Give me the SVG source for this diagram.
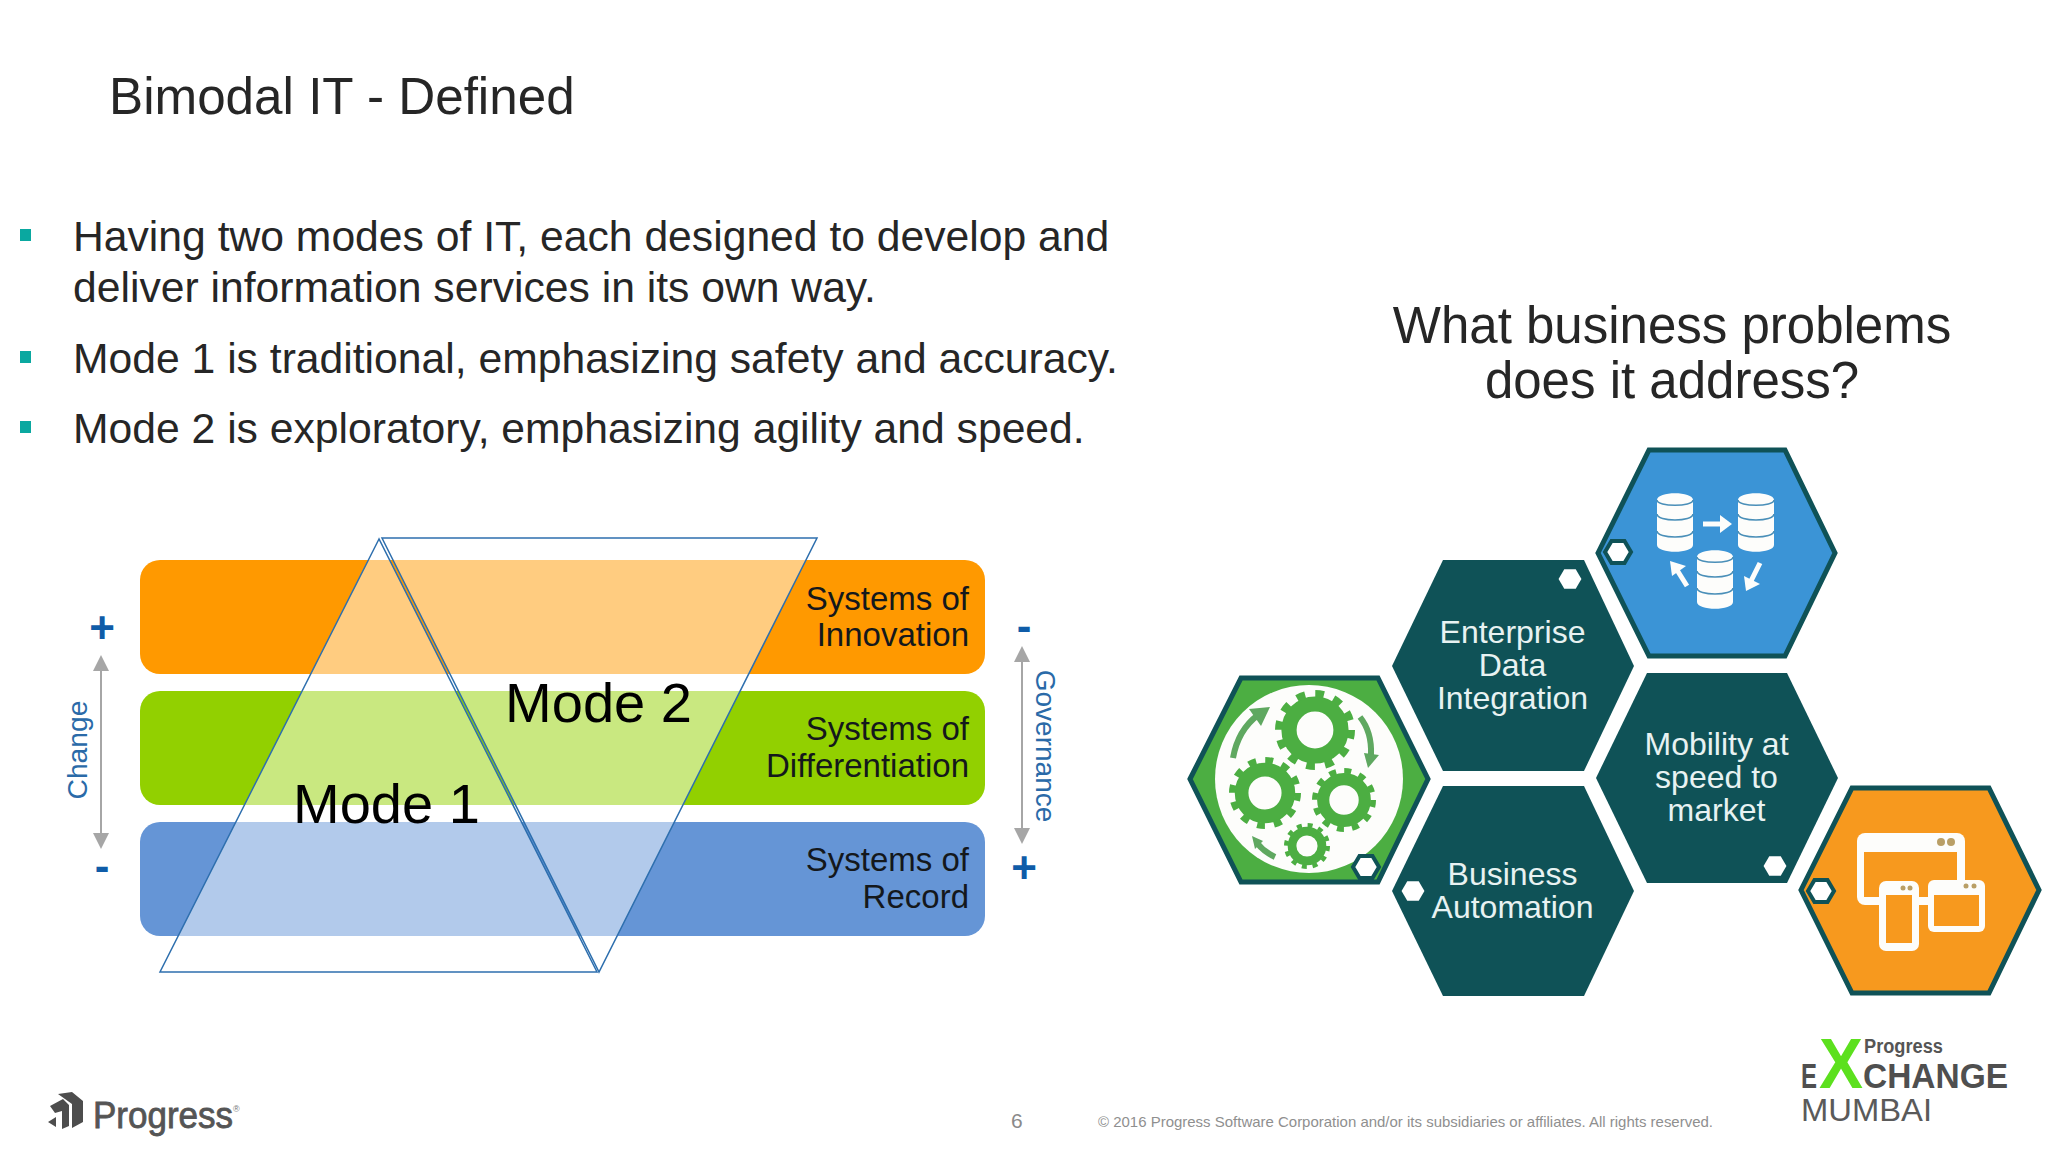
<svg xmlns="http://www.w3.org/2000/svg" width="2048" height="1152" viewBox="0 0 2048 1152">
<style>
text{font-family:"Liberation Sans",Arial,sans-serif}
.title{font-size:51.2px;fill:#262626}
.body{font-size:42.67px;fill:#262626}
.q{font-size:51px;fill:#262626;text-anchor:middle}
.bar-l{font-size:33px;fill:#14181c;text-anchor:end}
.mode{font-size:56px;fill:#000}
.side{font-size:28px;fill:#2a6aa8;text-anchor:middle}
.sign{font-size:44px;fill:#0f5ca8;font-weight:bold;text-anchor:middle}
.hex-t{font-size:32px;fill:#e8f2f2;text-anchor:middle}
.d{fill:#0f5257}
.ic{fill:#4cae42}
.tri{fill:#fff;fill-opacity:.5;stroke:#2e6fae;stroke-width:1.5}
.bullet{fill:#0aa8a0}
.wh{fill:#fdfdfb}
.gl{fill:none;stroke:#4a8fb8;stroke-width:1.6}
.ar{fill:none;stroke:#fdfdfb;stroke-width:5}
.ga{fill:none;stroke:#5fa860;stroke-width:6}
.dot{fill:#b99f66}
.io{fill:#f7991e}
.sh{fill:#fff;stroke:#0f5257;stroke-width:4}
</style>
<defs>
<marker id="ah" markerUnits="userSpaceOnUse" viewBox="0 0 16 16" refX="14" refY="8" markerWidth="16" markerHeight="16" orient="auto-start-reverse"><path d="M0 0L16 8L0 16Z" fill="#a6a6a6"/></marker>
<g id="gear"><circle r="65" fill="none" stroke="#4cae42" stroke-width="38"/><circle r="91" fill="none" stroke="#4cae42" stroke-width="18" stroke-dasharray="22 25.65"/></g>
<g id="db"><path class="wh" d="M0 7C0 -2 36 -2 36 7V52C36 61 0 61 0 52Z"/><path class="gl" d="M0 7C0 14 36 14 36 7M0 21C0 29 36 29 36 21M0 38C0 46 36 46 36 38"/></g>
<polygon id="smh" points="-13,0 -6.5,-11 6.5,-11 13,0 6.5,11 -6.5,11"/>
</defs>
<rect width="2048" height="1152" fill="#fff"/>
<text class="title" x="109" y="114">Bimodal IT - Defined</text>
<g id="bullets">
<rect class="bullet" x="20" y="229" width="11" height="12"/>
<text class="body" x="73" y="251">Having two modes of IT, each designed to develop and</text>
<text class="body" x="73" y="302">deliver information services in its own way.</text>
<rect class="bullet" x="20" y="351" width="11" height="12"/>
<text class="body" x="73" y="373">Mode 1 is traditional, emphasizing safety and accuracy.</text>
<rect class="bullet" x="20" y="421" width="11" height="12"/>
<text class="body" x="73" y="443">Mode 2 is exploratory, emphasizing agility and speed.</text>
</g>
<text class="q" x="1672" y="343">What business problems</text>
<text class="q" x="1672" y="398">does it address?</text>

<g id="bar-innovation"><rect x="140" y="560" width="845" height="114" rx="20" fill="#ff9900"/></g>
<g id="bar-differentiation"><rect x="140" y="691" width="845" height="114" rx="20" fill="#92d000"/></g>
<g id="bar-record"><rect x="140" y="822" width="845" height="114" rx="20" fill="#6595d6"/></g>
<g id="mode-shapes">
<polygon class="tri" points="379,539 160,972 597,972"/>
<polygon class="tri" points="382,538 817,538 599,972"/>
</g>
<g id="bar-labels">
<text class="bar-l" x="969" y="610">Systems of</text><text class="bar-l" x="969" y="646">Innovation</text>
<text class="bar-l" x="969" y="740">Systems of</text><text class="bar-l" x="969" y="777">Differentiation</text>
<text class="bar-l" x="969" y="871">Systems of</text><text class="bar-l" x="969" y="908">Record</text>
</g>
<text class="mode" x="293" y="823">Mode 1</text>
<text class="mode" x="505" y="722" textLength="187" lengthAdjust="spacingAndGlyphs">Mode 2</text>
<g id="connectors" fill="none" stroke="#a6a6a6" stroke-width="2">
<line x1="101" y1="657" x2="101" y2="847" marker-start="url(#ah)" marker-end="url(#ah)"/>
<line x1="1022" y1="648" x2="1022" y2="842" marker-start="url(#ah)" marker-end="url(#ah)"/>
</g>
<text class="side" transform="translate(87 750) rotate(-90)" textLength="99" lengthAdjust="spacingAndGlyphs">Change</text>
<text class="side" transform="translate(1036 746) rotate(90)">Governance</text>
<text class="sign" x="102" y="643">+</text>
<text class="sign" x="102" y="881">-</text>
<text class="sign" x="1024" y="641">-</text>
<text class="sign" x="1024" y="883">+</text>

<g id="hex-gears">
<polygon class="ic" stroke="#0f5257" stroke-width="5" points="1190,779 1241,678 1378,678 1428,779 1378,882 1241,882"/>
<circle class="wh" cx="1309" cy="779" r="94"/>
<use href="#gear" transform="translate(1315 730) scale(.4)"/>
<use href="#gear" transform="translate(1265 793) scale(.36)"/>
<use href="#gear" transform="translate(1344 800) scale(.32)"/>
<use href="#gear" transform="translate(1307 846) scale(.23)"/>
<path class="ga" d="M1233 758Q1238 730 1258 715"/><path d="M1270 707L1249 709L1261 726Z" fill="#5fa860"/>
<path class="ga" d="M1360 717Q1372 732 1371 755"/><path d="M1368 768L1364 753L1379 755Z" fill="#5fa860"/>
<path class="ga" stroke-width="4" d="M1275 857Q1264 852 1257 843"/><path d="M1252 836L1263 841L1255 849Z" fill="#5fa860"/>
<use href="#smh" class="sh" x="1366" y="867"/>
</g>
<g id="hex-data">
<polygon fill="#3b94d6" stroke="#0f5257" stroke-width="5" points="1598,553 1649,450 1785,450 1835,553 1785,656 1649,656"/>
<use href="#db" x="1657" y="493"/><use href="#db" x="1738" y="493"/><use href="#db" x="1697" y="550"/>
<path class="ar" d="M1703 524H1722"/><path class="wh" d="M1732 524L1720 515V533Z"/>
<path class="ar" d="M1760 563L1751 581"/><path class="wh" d="M1746 591L1744 576L1760 584Z"/>
<path class="ar" d="M1687 586L1677 570"/><path class="wh" d="M1670 561L1686 566L1672 576Z"/>
<use href="#smh" class="sh" x="1618" y="552"/>
</g>
<g id="hex-enterprise">
<polygon class="d" points="1392,666 1443,560 1584,560 1634,666 1584,771 1443,771"/>
<use href="#smh" fill="#fff" transform="translate(1570 579) scale(.88)"/>
<text class="hex-t" x="1512.5" y="643">Enterprise</text><text class="hex-t" x="1512.5" y="675.500">Data</text><text class="hex-t" x="1512.5" y="709">Integration</text>
</g>
<g id="hex-business">
<polygon class="d" points="1392,891 1443,786 1584,786 1634,891 1584,996 1443,996"/>
<use href="#smh" fill="#fff" transform="translate(1413 891) scale(.88)"/>
<text class="hex-t" x="1512.5" y="885">Business</text><text class="hex-t" x="1512.5" y="918">Automation</text>
</g>
<g id="hex-mobility">
<polygon class="d" points="1596,778 1647,673 1787,673 1838,778 1787,883 1647,883"/>
<use href="#smh" fill="#fff" transform="translate(1775 866) scale(.88)"/>
<text class="hex-t" x="1716.5" y="755">Mobility at</text><text class="hex-t" x="1716.5" y="788">speed to</text><text class="hex-t" x="1716.5" y="821">market</text>
</g>
<g id="hex-devices">
<polygon class="io" stroke="#0f5257" stroke-width="5" points="1801,890 1852,788 1989,788 2039,890 1989,993 1852,993"/>
<rect class="wh" x="1857" y="833" width="108" height="72" rx="8"/><rect class="io" x="1864" y="852" width="93" height="45"/>
<circle class="dot" cx="1941" cy="842" r="4"/><circle class="dot" cx="1951" cy="842" r="4"/>
<rect class="wh" x="1879" y="881" width="40" height="70" rx="7"/><rect class="io" x="1886" y="895" width="26" height="48"/>
<circle class="dot" cx="1903" cy="888" r="2.5"/><circle class="dot" cx="1910" cy="888" r="2.5"/>
<rect class="wh" x="1928" y="880" width="57" height="52" rx="6"/><rect class="io" x="1934" y="895" width="45" height="31"/>
<circle class="dot" cx="1966" cy="886" r="2.5"/><circle class="dot" cx="1974" cy="886" r="2.5"/>
<use href="#smh" class="sh" x="1821" y="891"/>
</g>

<g id="footer">
<text x="1011" y="1128" font-size="21" fill="#8a8a8a">6</text>
<text x="1098" y="1127" font-size="15" fill="#8f8f8f" textLength="615" lengthAdjust="spacingAndGlyphs">© 2016 Progress Software Corporation and/or its subsidiaries or affiliates. All rights reserved.</text>
</g>
<g id="logo-progress" fill="#4d4d4d">
<path d="M58 1094L72 1092L83 1101V1122L72 1128V1104ZM50 1106L63 1099L69 1105V1126L62 1129V1111L55 1113ZM48 1122L56 1117V1127Z"/>
<text x="93" y="1128" font-size="36" textLength="140" lengthAdjust="spacingAndGlyphs" fill="#555" stroke="#555" stroke-width=".8">Progress</text>
<text x="233" y="1112" font-size="9" fill="#777">®</text>
</g>
<g id="logo-exchange">
<text x="1864" y="1053" font-size="20" font-weight="bold" fill="#555" textLength="79" lengthAdjust="spacingAndGlyphs">Progress</text>
<text x="1819" y="1088" font-size="70" font-weight="bold" fill="#5ce01e" textLength="44" lengthAdjust="spacingAndGlyphs">X</text>
<text x="1801" y="1088" font-size="35" font-weight="bold" fill="#4f4f4f" textLength="16" lengthAdjust="spacingAndGlyphs">E</text>
<text x="1863" y="1088" font-size="35" font-weight="bold" fill="#4f4f4f" textLength="145" lengthAdjust="spacingAndGlyphs">CHANGE</text>
<text x="1801" y="1121" font-size="32" fill="#5a5a5a" textLength="131" lengthAdjust="spacingAndGlyphs">MUMBAI</text>
</g>
</svg>
